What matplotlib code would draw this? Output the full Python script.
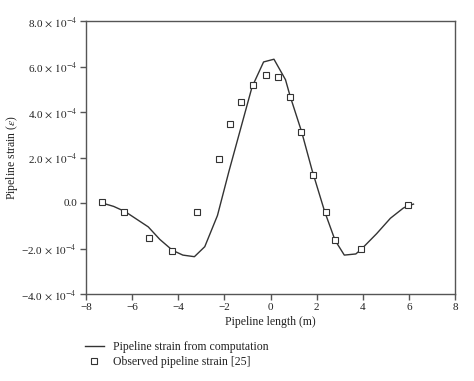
import matplotlib
matplotlib.use("Agg")
import matplotlib.pyplot as plt
import numpy as np
from matplotlib.ticker import FixedLocator, FuncFormatter

# Computed strain (units of 1e-4)
comp_x = [-7.3, -6.8, -6.3, -5.3, -4.8, -4.25, -3.8, -3.3, -2.85, -2.3, -1.8, -0.8, -0.3,
          0.15, 0.65, 0.85, 1.35, 1.8, 2.35, 2.8, 3.2, 3.7, 3.95, 4.6, 5.2, 5.75, 5.95, 6.2]
comp_y = [0.0, -0.15, -0.38, -1.05, -1.6, -2.08, -2.29, -2.36, -1.92, -0.55, 1.4, 5.1, 6.2,
          6.32, 5.42, 4.7, 3.13, 1.45, -0.38, -1.64, -2.29, -2.24, -2.02, -1.35, -0.67, -0.23, -0.12, -0.05]

# Observed strain (units of 1e-4)
obs_x = [-7.31, -6.35, -5.27, -4.27, -3.19, -2.22, -1.76, -1.29, -0.77, -0.21, 0.34,
         0.83, 1.34, 1.86, 2.39, 2.80, 3.93, 5.95]
obs_y = [0.05, -0.38, -1.52, -2.10, -0.40, 1.92, 3.46, 4.42, 5.19, 5.61, 5.55,
         4.67, 3.11, 1.24, -0.40, -1.64, -2.02, -0.10]

scale = 1e-4
x_ticks = [-8, -6, -4, -2, 0, 2, 4, 6, 8]
y_ticks = [-4, -2, 0, 2, 4, 6, 8]

plt.rcParams['font.family'] = ['Liberation Serif', 'DejaVu Serif']
plt.rcParams['mathtext.fontset'] = 'stix'

fig = plt.figure(figsize=(4.74, 3.81), dpi=100)
ax = fig.add_axes([86/474, 1-294/381, (455-86)/474, (294-21)/381])

dark = '#333333'
line, = ax.plot(np.array(comp_x), np.array(comp_y)*scale, color=dark, lw=1.0,
                label='Pipeline strain from computation')
pts, = ax.plot(np.array(obs_x), np.array(obs_y)*scale, ls='none', marker='s', ms=4.5,
               mfc='white', mec=dark, mew=0.8, label='Observed pipeline strain [25]')

ax.set_xlim(-8, 8)
ax.set_ylim(-4*scale, 8*scale)
ax.xaxis.set_major_locator(FixedLocator(x_ticks))
ax.yaxis.set_major_locator(FixedLocator([v*scale for v in y_ticks]))

def yfmt(v, pos):
    m = v/scale
    if abs(m) < 1e-9:
        return '0.0'
    s = '%.1f' % abs(m)
    sign = '\u2212' if m < 0 else ''
    return sign + s + r'$\,\times\,10^{-4}$'

def xfmt(v, pos):
    return ('\u2212%d' % abs(v)) if v < 0 else '%d' % v

ax.yaxis.set_major_formatter(FuncFormatter(yfmt))
ax.xaxis.set_major_formatter(FuncFormatter(xfmt))

for s in ax.spines.values():
    s.set_color('#555555')
    s.set_linewidth(1.0)
ax.tick_params(direction='out', length=4, width=1.0, color='#555555',
               labelsize=8, labelcolor='#222222', top=False, right=False, pad=2.5)

ax.set_xlabel('Pipeline length (m)', fontsize=8.5, color='#222222', labelpad=3)
ax.set_ylabel(r'Pipeline strain ($\varepsilon$)', fontsize=8.5, color='#222222')
ax.yaxis.set_label_coords(-0.18, 0.5)

fig.legend(handles=[line, pts], loc='upper left', bbox_to_anchor=(80/474, 1-336/381),
           frameon=False, fontsize=8.5, handlelength=1.6, handletextpad=0.8,
           labelspacing=0.25, borderaxespad=0, labelcolor='#222222')

fig.savefig('out.png', dpi=100)
